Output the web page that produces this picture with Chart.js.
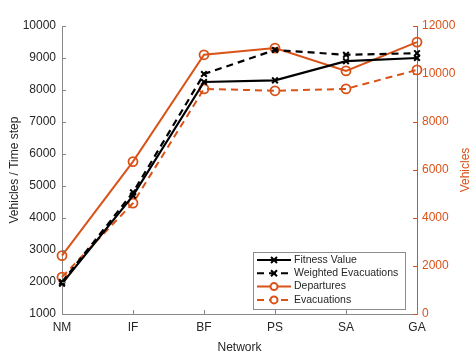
<!DOCTYPE html>
<html><head><meta charset="utf-8">
<script src="https://cdn.jsdelivr.net/npm/chart.js@4.4.0/dist/chart.umd.min.js"></script>
<style>html,body{margin:0;padding:0;background:#fff}#wrap{width:474px;height:355px}</style>
</head><body><div id="wrap"><canvas id="c" width="474" height="355"></canvas></div>
<script>
const categories = ["NM","IF","BF","PS","SA","GA"];
const fitnessValue = [1950, 4700, 8250, 8300, 8900, 9000];
const weightedEvacuations = [2000, 4800, 8500, 9250, 9100, 9150];
const departures = [2430, 6350, 10800, 11080, 10130, 11330];
const evacuations = [1540, 4620, 9380, 9300, 9380, 10170];
const leftTicks = [1000,2000,3000,4000,5000,6000,7000,8000,9000,10000];
const rightTicks = [0,2000,4000,6000,8000,10000,12000];
const rightTitle = 'Vehicles';

const ORANGE = '#D95319';
const TXT = '#262626';
const FONT = "'Liberation Sans', Arial, sans-serif";

const innerTicks = {
  id:'innerTicks',
  afterDraw(chart){
    const ctx = chart.ctx, a = chart.chartArea;
    ctx.save(); ctx.lineWidth = 1;
    const y = chart.scales.y, y2 = chart.scales.y2, x = chart.scales.x;
    ctx.strokeStyle = '#888';
    y.ticks.forEach((t,i)=>{const p=Math.round(y.getPixelForTick(i))+0.5;ctx.beginPath();ctx.moveTo(a.left,p);ctx.lineTo(a.left+4,p);ctx.stroke();});
    x.ticks.forEach((t,i)=>{const p=Math.round(x.getPixelForTick(i))+0.5;ctx.beginPath();ctx.moveTo(p,a.bottom);ctx.lineTo(p,a.bottom-4);ctx.stroke();});
    ctx.strokeStyle = ORANGE;
    y2.ticks.forEach((t,i)=>{const p=Math.round(y2.getPixelForTick(i))+0.5;ctx.beginPath();ctx.moveTo(a.right,p);ctx.lineTo(a.right-4,p);ctx.stroke();});
    // right axis title, reading bottom-to-top
    ctx.fillStyle = ORANGE; ctx.font = "12px "+FONT;
    ctx.translate(466, (a.top+a.bottom)/2); ctx.rotate(-Math.PI/2);
    ctx.textAlign='center'; ctx.textBaseline='middle';
    ctx.fillText(rightTitle, 0, 0);
    ctx.restore();
  }
};

const boxLegend = {
  id:'boxLegend',
  afterDraw(chart){
    const ctx = chart.ctx;
    const L = 253, T = 252, W = 152, H = 57;
    ctx.save();
    ctx.fillStyle='#fff'; ctx.fillRect(L,T,W,H);
    ctx.strokeStyle='#8c8c8c'; ctx.lineWidth=1; ctx.strokeRect(L+0.5,T+0.5,W,H);
    ctx.font = "10.5px "+FONT; ctx.textBaseline='middle'; ctx.fillStyle=TXT;
    chart.data.datasets.forEach((ds,i)=>{
      const yy = T + 8 + i*13.3;
      ctx.strokeStyle = ds.borderColor; ctx.lineWidth = 2;
      ctx.setLineDash(ds.borderDash||[]);
      ctx.beginPath(); ctx.moveTo(L+4,yy); ctx.lineTo(L+38,yy); ctx.stroke();
      ctx.setLineDash([]);
      const cx = L+21;
      ctx.lineWidth=2;
      if(ds.pointStyle==='circle'){ctx.fillStyle='#fff';ctx.beginPath();ctx.arc(cx,yy,3.5,0,Math.PI*2);ctx.fill();ctx.stroke();}
      else {ctx.beginPath();ctx.moveTo(cx-3,yy-3);ctx.lineTo(cx+3,yy+3);ctx.moveTo(cx+3,yy-3);ctx.lineTo(cx-3,yy+3);ctx.stroke();}
      ctx.fillStyle=TXT;
      ctx.fillText(ds.label, L+41, yy);
    });
    ctx.restore();
  }
};

new Chart(document.getElementById('c'),{
  type:'line',
  data:{labels:categories,datasets:[
    {label:'Fitness Value',data:fitnessValue,yAxisID:'y',borderColor:'#000',backgroundColor:'#000',borderWidth:2.2,pointStyle:'crossRot',pointRadius:4,pointBorderWidth:2,tension:0},
    {label:'Weighted Evacuations',data:weightedEvacuations,yAxisID:'y',borderColor:'#000',backgroundColor:'#000',borderWidth:2.2,borderDash:[7,5],pointStyle:'crossRot',pointRadius:4,pointBorderWidth:2,tension:0},
    {label:'Departures',data:departures,yAxisID:'y2',borderColor:ORANGE,backgroundColor:'rgba(255,255,255,0)',borderWidth:2,pointStyle:'circle',pointRadius:4.5,pointBorderWidth:1.8,tension:0},
    {label:'Evacuations',data:evacuations,yAxisID:'y2',borderColor:ORANGE,backgroundColor:'rgba(255,255,255,0)',borderWidth:2,borderDash:[7,5],pointStyle:'circle',pointRadius:4.5,pointBorderWidth:1.8,tension:0}
  ]},
  options:{
    responsive:false,animation:false,
    layout:{padding:{top:26,left:0,right:0,bottom:0}},
    plugins:{legend:{display:false},tooltip:{enabled:false}},
    scales:{
      x:{offset:false,grid:{display:false,drawTicks:false},border:{display:true,color:'#888'},
        ticks:{color:TXT,font:{family:FONT,size:12},padding:6,maxRotation:0},
        title:{display:true,text:'Network',color:TXT,font:{family:FONT,size:12},padding:{top:1,bottom:0}},
        afterFit(s){s.height=41;}},
      y:{position:'left',min:1000,max:10000,afterBuildTicks(s){s.ticks=leftTicks.map(v=>({value:v}));},
        grid:{display:false,drawTicks:false},border:{display:true,color:'#888'},
        ticks:{color:TXT,font:{family:FONT,size:12},padding:6,callback:v=>String(v)},
        title:{display:true,text:'Vehicles / Time step',color:TXT,font:{family:FONT,size:12},padding:{top:7,bottom:4}},
        afterFit(s){s.width=62;}},
      y2:{position:'right',min:0,max:12000,afterBuildTicks(s){s.ticks=rightTicks.map(v=>({value:v}));},
        grid:{display:false,drawTicks:false},border:{display:true,color:ORANGE},
        ticks:{color:ORANGE,font:{family:FONT,size:12},padding:5,callback:v=>String(v)},
        title:{display:false},
        afterFit(s){s.width=57;}}
    }
  },
  plugins:[innerTicks,boxLegend]
});
</script></body></html>
